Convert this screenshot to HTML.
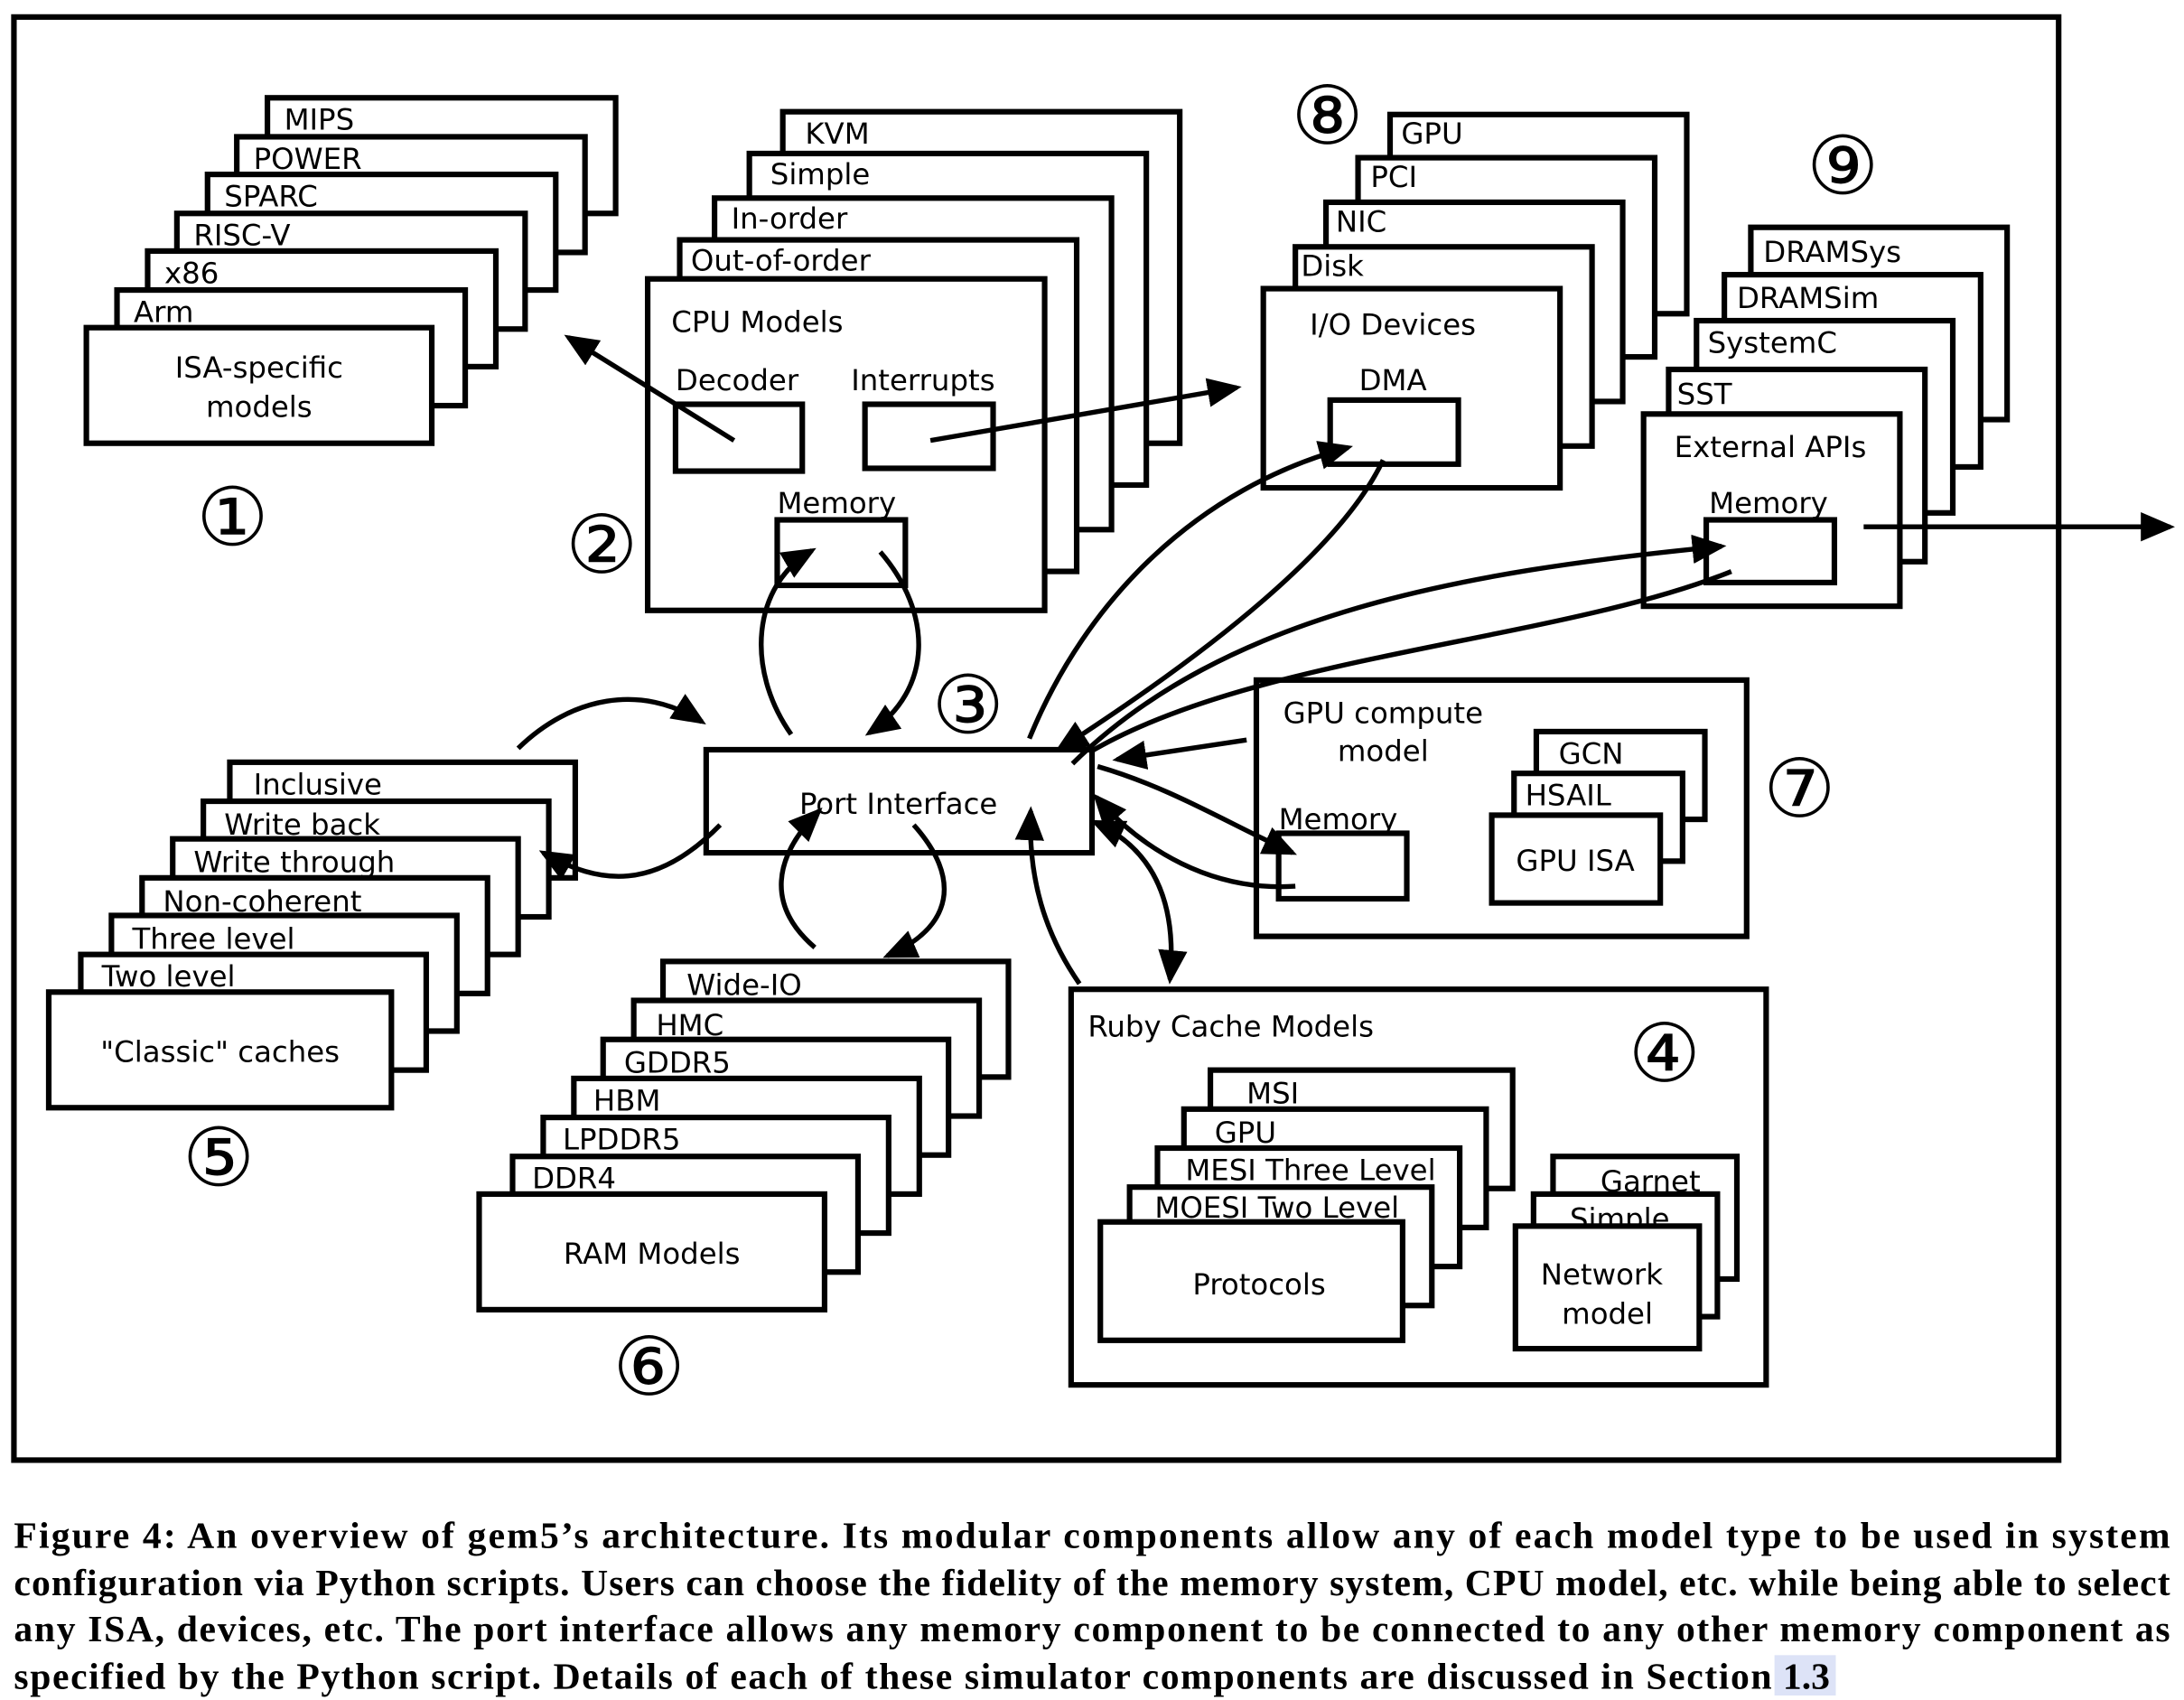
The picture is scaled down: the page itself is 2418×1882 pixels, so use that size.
<!DOCTYPE html>
<html><head><meta charset="utf-8">
<style>
html,body{margin:0;padding:0;background:#fff;}
svg{display:block;}
.b{fill:#fff;stroke:#000;stroke-width:4;}
.t{font-family:"DejaVu Sans","Liberation Sans",sans-serif;font-size:21px;fill:#000;}
.c{font-family:"DejaVu Sans","Liberation Sans",sans-serif;font-size:58px;fill:#000;}
.a{fill:none;stroke:#000;stroke-width:3.5;marker-end:url(#ah);}
.cap{font-family:"Liberation Serif",serif;font-weight:bold;font-size:27px;fill:#000;}
</style></head>
<body>
<svg width="2418" height="1882" viewBox="0 0 1568 1220" xmlns="http://www.w3.org/2000/svg">
<defs><marker id="ah" markerWidth="8" markerHeight="8" refX="6" refY="4" orient="auto" markerUnits="strokeWidth"><path d="M0,1 L7,4 L0,7 z" fill="#000"/></marker>
<marker id="as" markerWidth="8" markerHeight="8" refX="2" refY="4" orient="auto" markerUnits="strokeWidth"><path d="M8,1 L1,4 L8,7 z" fill="#000"/></marker></defs>
<rect x="10" y="12" width="1468" height="1036" fill="none" stroke="#000" stroke-width="4"/>

<g>
<rect class="b" x="192" y="70" width="250" height="83"/><text class="t" x="204" y="93">MIPS</text>
<rect class="b" x="170" y="98" width="250" height="83"/><text class="t" x="182" y="121">POWER</text>
<rect class="b" x="149" y="125" width="250" height="83"/><text class="t" x="161" y="148">SPARC</text>
<rect class="b" x="127" y="153" width="250" height="83"/><text class="t" x="139" y="176">RISC-V</text>
<rect class="b" x="106" y="180" width="250" height="83"/><text class="t" x="118" y="203">x86</text>
<rect class="b" x="84" y="208" width="250" height="83"/><text class="t" x="96" y="231">Arm</text>
<rect class="b" x="62" y="235" width="248" height="83"/>
<text class="t" x="186" y="271" text-anchor="middle">ISA-specific</text><text class="t" x="186" y="299" text-anchor="middle">models</text>
</g>

<rect class="b" x="562" y="80" width="285" height="238"/><text class="t" x="578" y="103">KVM</text>
<rect class="b" x="538" y="110" width="285" height="238"/><text class="t" x="553" y="132">Simple</text>
<rect class="b" x="513" y="142" width="285" height="238"/><text class="t" x="525" y="164">In-order</text>
<rect class="b" x="488" y="172" width="285" height="238"/><text class="t" x="496" y="194">Out-of-order</text>
<rect class="b" x="465" y="200" width="285" height="238"/>
<text class="t" x="482" y="238">CPU Models</text>
<text class="t" x="485" y="280">Decoder</text><rect class="b" x="485" y="290" width="91" height="48"/>
<text class="t" x="611" y="280">Interrupts</text><rect class="b" x="621" y="290" width="92" height="46"/>
<text class="t" x="558" y="368">Memory</text><rect class="b" x="558" y="373" width="92" height="47"/>

<rect class="b" x="998" y="82" width="213" height="143"/><text class="t" x="1006" y="103">GPU</text>
<rect class="b" x="975" y="113" width="213" height="143"/><text class="t" x="984" y="134">PCI</text>
<rect class="b" x="952" y="145" width="213" height="143"/><text class="t" x="959" y="166">NIC</text>
<rect class="b" x="930" y="177" width="213" height="143"/><text class="t" x="934" y="198">Disk</text>
<rect class="b" x="907" y="207" width="213" height="143"/>
<text class="t" x="1000" y="240" text-anchor="middle">I/O Devices</text>
<text class="t" x="1000" y="280" text-anchor="middle">DMA</text>
<rect class="b" x="955" y="287" width="92" height="46"/>

<rect class="b" x="1257" y="163" width="184" height="138"/><text class="t" x="1266" y="188">DRAMSys</text>
<rect class="b" x="1238" y="197" width="184" height="138"/><text class="t" x="1247" y="221">DRAMSim</text>
<rect class="b" x="1218" y="230" width="184" height="138"/><text class="t" x="1226" y="253">SystemC</text>
<rect class="b" x="1198" y="265" width="184" height="138"/><text class="t" x="1204" y="290">SST</text>
<rect class="b" x="1180" y="297" width="184" height="138"/>
<text class="t" x="1271" y="328" text-anchor="middle">External APIs</text>
<text class="t" x="1227" y="368">Memory</text>
<rect class="b" x="1225" y="373" width="92" height="45"/>

<rect class="b" x="507" y="538" width="277" height="74"/>
<text class="t" x="645" y="584" text-anchor="middle">Port Interface</text>

<rect class="b" x="902" y="488" width="352" height="184"/>
<text class="t" x="993" y="519" text-anchor="middle">GPU compute</text>
<text class="t" x="993" y="546" text-anchor="middle">model</text>
<text class="t" x="918" y="595">Memory</text>
<rect class="b" x="918" y="598" width="92" height="47"/>
<rect class="b" x="1103" y="525" width="121" height="63"/><text class="t" x="1119" y="548">GCN</text>
<rect class="b" x="1087" y="555" width="121" height="63"/><text class="t" x="1095" y="578">HSAIL</text>
<rect class="b" x="1071" y="585" width="121" height="63"/>
<text class="t" x="1131" y="625" text-anchor="middle">GPU ISA</text>

<rect class="b" x="769" y="710" width="499" height="284"/>
<text class="t" x="781" y="744">Ruby Cache Models</text>
<rect class="b" x="869" y="768" width="217" height="85"/><text class="t" x="895" y="792">MSI</text>
<rect class="b" x="850" y="796" width="217" height="85"/><text class="t" x="872" y="820">GPU</text>
<rect class="b" x="831" y="824" width="217" height="85"/><text class="t" x="851" y="847">MESI Three Level</text>
<rect class="b" x="811" y="852" width="217" height="85"/><text class="t" x="829" y="874">MOESI Two Level</text>
<rect class="b" x="790" y="877" width="217" height="85"/>
<text class="t" x="904" y="929" text-anchor="middle">Protocols</text>
<rect class="b" x="1115" y="830" width="132" height="88"/><text class="t" x="1149" y="855">Garnet</text>
<rect class="b" x="1101" y="857" width="132" height="88"/><text class="t" x="1127" y="882">Simple</text>
<rect class="b" x="1088" y="880" width="132" height="88"/>
<text class="t" x="1150" y="922" text-anchor="middle">Network</text><text class="t" x="1154" y="950" text-anchor="middle">model</text>

<rect class="b" x="165" y="547" width="248" height="83"/><text class="t" x="182" y="570">Inclusive</text>
<rect class="b" x="146" y="575" width="248" height="83"/><text class="t" x="161" y="599">Write back</text>
<rect class="b" x="124" y="602" width="248" height="83"/><text class="t" x="139" y="626">Write through</text>
<rect class="b" x="102" y="630" width="248" height="83"/><text class="t" x="117" y="654">Non-coherent</text>
<rect class="b" x="80" y="657" width="248" height="83"/><text class="t" x="95" y="681">Three level</text>
<rect class="b" x="58" y="685" width="248" height="83"/><text class="t" x="73" y="708">Two level</text>
<rect class="b" x="35" y="712" width="246" height="83"/>
<text class="t" x="158" y="762" text-anchor="middle">"Classic" caches</text>

<rect class="b" x="476" y="690" width="248" height="83"/><text class="t" x="493" y="714">Wide-IO</text>
<rect class="b" x="455" y="718" width="248" height="83"/><text class="t" x="471" y="743">HMC</text>
<rect class="b" x="433" y="746" width="248" height="83"/><text class="t" x="448" y="770">GDDR5</text>
<rect class="b" x="412" y="774" width="248" height="83"/><text class="t" x="426" y="797">HBM</text>
<rect class="b" x="390" y="802" width="248" height="83"/><text class="t" x="404" y="825">LPDDR5</text>
<rect class="b" x="368" y="830" width="248" height="83"/><text class="t" x="382" y="853">DDR4</text>
<rect class="b" x="344" y="857" width="248" height="83"/>
<text class="t" x="468" y="907" text-anchor="middle">RAM Models</text>

<text class="c" x="167" y="391" text-anchor="middle">①</text>
<text class="c" x="432" y="411" text-anchor="middle">②</text>
<text class="c" x="695" y="526" text-anchor="middle">③</text>
<text class="c" x="1195" y="776" text-anchor="middle">④</text>
<text class="c" x="157" y="851" text-anchor="middle">⑤</text>
<text class="c" x="466" y="1001" text-anchor="middle">⑥</text>
<text class="c" x="1292" y="586" text-anchor="middle">⑦</text>
<text class="c" x="953" y="103" text-anchor="middle">⑧</text>
<text class="c" x="1323" y="139" text-anchor="middle">⑨</text>

<path class="a" d="M527,316 L408,242"/>
<path class="a" d="M668,316 L888,278"/>
<path class="a" d="M568,527 C535,480 540,420 583,395"/>
<path class="a" d="M632,396 C670,440 670,495 624,526"/>
<path class="a" d="M739,530 C780,430 860,350 968,321"/>
<path class="a" d="M993,330 C960,400 850,480 760,538"/>
<path class="a" d="M770,548 C880,440 1050,410 1236,392"/>
<path fill="none" stroke="#000" stroke-width="3.5" d="M1243,410 C1120,460 900,470 782,540"/>
<path class="a" d="M1338,378 L1558,378"/>
<path class="a" d="M895,531 L802,545"/>
<path class="a" d="M788,550 C840,565 880,590 928,612"/>
<path class="a" d="M930,636 C870,640 820,610 787,572"/>
<path fill="none" stroke="#000" stroke-width="3.5" marker-start="url(#as)" marker-end="url(#ah)" d="M786,590 C830,610 845,650 840,703"/>
<path class="a" d="M775,706 C750,670 738,630 740,582"/>
<path class="a" d="M372,537 C410,500 460,490 504,518"/>
<path class="a" d="M517,592 C470,640 430,635 390,612"/>
<path class="a" d="M585,680 C550,650 555,615 588,582"/>
<path class="a" d="M656,592 C690,630 685,665 637,686"/>

<text class="cap" x="10" y="1111" textLength="1548" lengthAdjust="spacing">Figure 4: An overview of gem5’s architecture. Its modular components allow any of each model type to be used in system</text>
<text class="cap" x="10" y="1145" textLength="1548" lengthAdjust="spacing">configuration via Python scripts. Users can choose the fidelity of the memory system, CPU model, etc. while being able to select</text>
<text class="cap" x="10" y="1178" textLength="1548" lengthAdjust="spacing">any ISA, devices, etc. The port interface allows any memory component to be connected to any other memory component as</text>
<rect x="1274" y="1188" width="44" height="29" fill="#dde3f7"/>
<text class="cap" x="10" y="1212" textLength="1262" lengthAdjust="spacing">specified by the Python script. Details of each of these simulator components are discussed in Section</text>
<text class="cap" x="1280" y="1212" fill="#5060b0">1.3</text>
</svg>
</body></html>
